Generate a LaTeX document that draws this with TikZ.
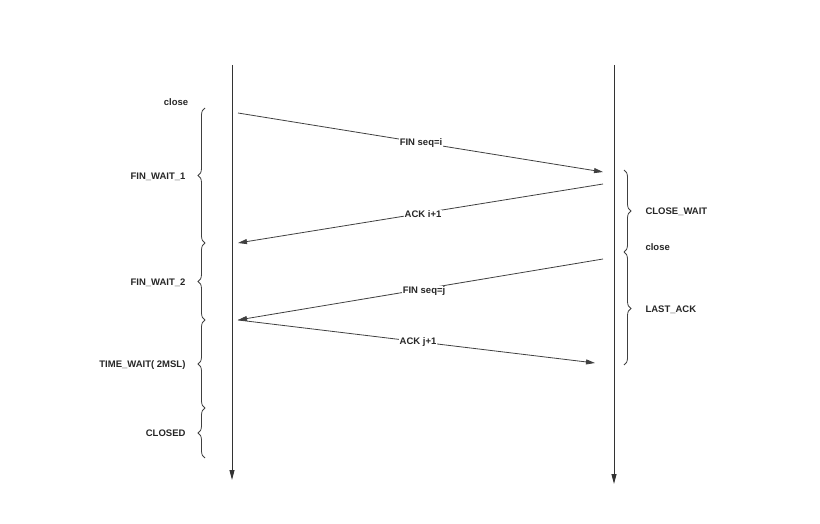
\documentclass[tikz,border=0pt]{standalone}
\usepackage{fontspec}
\setmainfont{Liberation Sans}
\usetikzlibrary{arrows.meta,decorations.pathreplacing}
\begin{document}
\begin{tikzpicture}[x=1pt,y=-1pt,
  lbl/.style={font=\fontsize{9.5}{11}\selectfont\bfseries,text=black!85},
  msg/.style={draw=black!75,line width=0.8pt,-{Triangle[length=9pt,width=5pt]}},
  life/.style={draw=black!80,line width=1pt,-{Triangle[length=10pt,width=5pt]}},
  br/.style={draw=black!75,line width=0.8pt,decorate,decoration={brace,amplitude=7pt}}]
\useasboundingbox (0,0) rectangle (820,524);
\coordinate (lt) at (232,65); \coordinate (lb) at (232,480);
\coordinate (rt) at (614,65); \coordinate (rb) at (614,484);
\draw[life] (lt) -- (lb);
\draw[life] (rt) -- (rb);
\coordinate (a1) at (238,113); \coordinate (b1) at (603,172);
\coordinate (a2) at (603,184); \coordinate (b2) at (238,243);
\coordinate (a3) at (603,259); \coordinate (b3) at (238,320);
\coordinate (a4) at (238,320); \coordinate (b4) at (595,363);
\draw[msg] (a1) -- (b1);
\draw[msg] (a2) -- (b2);
\draw[msg] (a3) -- (b3);
\draw[msg] (a4) -- (b4);
\node[lbl,fill=white,inner sep=1pt] (m1) at (421,143) {FIN seq=i};
\node[lbl,fill=white,inner sep=1pt] (m2) at (423,214) {ACK i+1};
\node[lbl,fill=white,inner sep=1pt] (m3) at (424,291) {FIN seq=j};
\node[lbl,fill=white,inner sep=1pt] (m4) at (418,342) {ACK j+1};
\node[lbl] (close1) at (176,102) {close};
% left braces
\coordinate (l1t) at (205,108); \coordinate (l1b) at (205,243);
\coordinate (l2t) at (205,243); \coordinate (l2b) at (205,320);
\coordinate (l3t) at (205,320); \coordinate (l3b) at (205,408);
\coordinate (l4t) at (205,408); \coordinate (l4b) at (205,458);
\draw[br] (l1b) -- (l1t);
\draw[br] (l2b) -- (l2t);
\draw[br] (l3b) -- (l3t);
\draw[br] (l4b) -- (l4t);
\node[lbl,anchor=east] (s1) at (189,177) {FIN\_WAIT\_1};
\node[lbl,anchor=east] (s2) at (189,283) {FIN\_WAIT\_2};
\node[lbl,anchor=east] (s3) at (189,365) {TIME\_WAIT( 2MSL)};
\node[lbl,anchor=east] (s4) at (189,433) {CLOSED};
% right braces
\coordinate (r1t) at (624,170); \coordinate (r1b) at (624,252);
\coordinate (r2t) at (624,252); \coordinate (r2b) at (624,365);
\draw[br] (r1t) -- (r1b);
\draw[br] (r2t) -- (r2b);
\node[lbl,anchor=west] (s5) at (642,212) {CLOSE\_WAIT};
\node[lbl,anchor=west] (close2) at (642,247) {close};
\node[lbl,anchor=west] (s6) at (642,310) {LAST\_ACK};
\end{tikzpicture}
\end{document}
